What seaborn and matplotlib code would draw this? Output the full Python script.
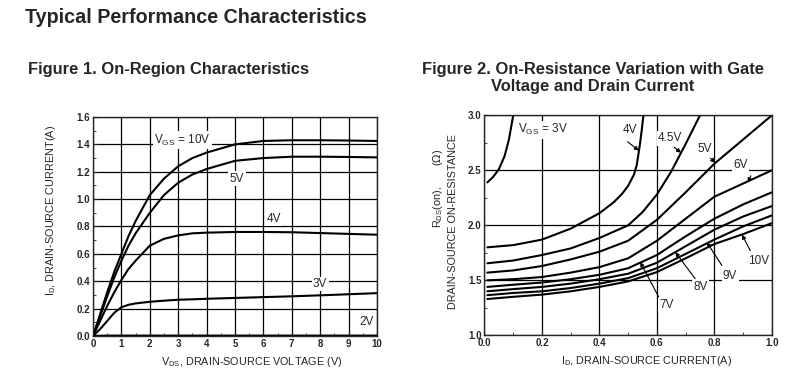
import numpy as np
import pandas as pd
import matplotlib
matplotlib.use("Agg")
import matplotlib.pyplot as plt
import seaborn as sns
from matplotlib.ticker import MultipleLocator

# Figure 1: On-region characteristics (I_D vs V_DS)
vds = [0, 0.25, 0.5, 0.75, 1, 1.25, 1.5, 2, 2.5, 3, 3.5, 4, 5, 6, 7, 8, 9, 10]
id_10v = [0, 0.16, 0.32, 0.47, 0.60, 0.73, 0.84, 1.03, 1.15, 1.24, 1.30, 1.34, 1.40, 1.425, 1.43, 1.43, 1.428, 1.425]
id_5v = [0, 0.145, 0.29, 0.43, 0.55, 0.66, 0.75, 0.90, 1.03, 1.12, 1.18, 1.22, 1.28, 1.30, 1.31, 1.31, 1.308, 1.305]
id_4v = [0, 0.11, 0.22, 0.32, 0.41, 0.49, 0.55, 0.66, 0.71, 0.735, 0.75, 0.755, 0.76, 0.76, 0.758, 0.752, 0.746, 0.74]
id_3v = [0, 0.05, 0.11, 0.17, 0.21, 0.228, 0.238, 0.25, 0.258, 0.265, 0.268, 0.272, 0.278, 0.284, 0.29, 0.297, 0.305, 0.313]
id_2v = [0, 0.002, 0.003, 0.003, 0.003, 0.003, 0.003, 0.003, 0.003, 0.003, 0.003, 0.003, 0.003, 0.003, 0.003, 0.003, 0.003, 0.003]

# Figure 2: on-resistance vs drain current
id_3v_r = [0.01, 0.03, 0.05, 0.07, 0.085, 0.1]
r_3v = [2.39, 2.44, 2.51, 2.63, 2.78, 3.0]
id_4v_r = [0.01, 0.1, 0.2, 0.3, 0.4, 0.45, 0.48, 0.5, 0.52, 0.53, 0.54, 0.547, 0.553]
r_4v = [1.80, 1.82, 1.87, 1.97, 2.11, 2.21, 2.29, 2.36, 2.46, 2.55, 2.72, 2.86, 3.0]
id_45v_r = [0.01, 0.1, 0.2, 0.3, 0.4, 0.5, 0.55, 0.6, 0.65, 0.7, 0.75]
r_45v = [1.655, 1.68, 1.73, 1.79, 1.885, 2.0, 2.12, 2.28, 2.49, 2.74, 3.0]
id_r = [0.01, 0.1, 0.2, 0.3, 0.4, 0.5, 0.6, 0.7, 0.8, 0.9, 1.0]
r_5v = [1.57, 1.59, 1.63, 1.69, 1.76, 1.86, 2.05, 2.30, 2.56, 2.78, 3.0]
r_6v = [1.50, 1.51, 1.53, 1.57, 1.62, 1.70, 1.86, 2.06, 2.26, 2.38, 2.50]
r_7v = [1.44, 1.46, 1.48, 1.51, 1.55, 1.61, 1.73, 1.90, 2.06, 2.19, 2.30]
r_8v = [1.40, 1.42, 1.44, 1.47, 1.51, 1.56, 1.66, 1.81, 1.96, 2.08, 2.175]
r_9v = [1.365, 1.385, 1.40, 1.43, 1.47, 1.52, 1.61, 1.74, 1.87, 1.99, 2.09]
r_10v = [1.33, 1.35, 1.37, 1.40, 1.44, 1.49, 1.575, 1.70, 1.83, 1.92, 2.02]

# build long tables for seaborn
fig1_df = pd.concat([
    pd.DataFrame({"vds": vds, "id": v, "vgs": name})
    for name, v in [("10V", id_10v), ("5V", id_5v), ("4V", id_4v), ("3V", id_3v), ("2V", id_2v)]
])
fig2_df = pd.concat([
    pd.DataFrame({"id": x, "r": y, "vgs": name})
    for name, x, y in [("3V", id_3v_r, r_3v), ("4V", id_4v_r, r_4v), ("4.5V", id_45v_r, r_45v),
                       ("5V", id_r, r_5v), ("6V", id_r, r_6v), ("7V", id_r, r_7v),
                       ("8V", id_r, r_8v), ("9V", id_r, r_9v), ("10V", id_r, r_10v)]
])

sns.set_style("ticks")
plt.rcParams["font.family"] = ["Liberation Sans", "DejaVu Sans"]
plt.rcParams["axes.linewidth"] = 1.0

fig = plt.figure(figsize=(8.04, 3.8), dpi=100)
ax1 = fig.add_axes([0.1157, 0.1158, 0.3532, 0.5763])
ax2 = fig.add_axes([0.6026, 0.1176, 0.3574, 0.5789])

box = dict(facecolor="white", edgecolor="none", pad=1.0)
lbl = dict(fontsize=8.5, ha="center", va="center", bbox=box, zorder=5)

# Figure 1
sns.lineplot(data=fig1_df, x="vds", y="id", hue="vgs", palette=["black"] * 5,
             estimator=None, legend=False, linewidth=1.5, ax=ax1)
ax1.set_xlim(0, 10)
ax1.set_ylim(0, 1.6)
ax1.xaxis.set_major_locator(MultipleLocator(1))
ax1.xaxis.set_minor_locator(MultipleLocator(0.5))
ax1.yaxis.set_major_locator(MultipleLocator(0.2))
ax1.yaxis.set_minor_locator(MultipleLocator(0.1))
ax1.yaxis.set_major_formatter(plt.FormatStrFormatter("%.1f"))
ax1.set_xlabel(r"$\mathregular{V_{DS}}$, DRAIN-SOURCE VOLTAGE (V)", fontsize=7.8)
ax1.set_ylabel(r"$\mathregular{I_D}$, DRAIN-SOURCE CURRENT(A)", fontsize=7.8)
ax1.xaxis.set_label_coords(0.558, -0.085)
ax1.yaxis.set_label_coords(-0.125, 0.573)
ax1.text(3.14, 1.43, r"$\mathregular{V_{GS}}$ = 10V", **lbl)
ax1.text(5.07, 1.15, "5V", **lbl)
ax1.text(6.36, 0.855, "4V", **lbl)
ax1.text(8.0, 0.38, "3V", **lbl)
ax1.text(9.63, 0.10, "2V", **lbl)

# Figure 2
sns.lineplot(data=fig2_df, x="id", y="r", hue="vgs", palette=["black"] * 9,
             estimator=None, legend=False, linewidth=1.5, ax=ax2)
ax2.set_xlim(0, 1.0)
ax2.set_ylim(1.0, 3.0)
ax2.xaxis.set_major_locator(MultipleLocator(0.2))
ax2.xaxis.set_minor_locator(MultipleLocator(0.1))
ax2.yaxis.set_major_locator(MultipleLocator(0.5))
ax2.yaxis.set_minor_locator(MultipleLocator(0.25))
ax2.xaxis.set_major_formatter(plt.FormatStrFormatter("%.1f"))
ax2.yaxis.set_major_formatter(plt.FormatStrFormatter("%.1f"))
ax2.set_xlabel(r"$\mathregular{I_D}$, DRAIN-SOURCE CURRENT(A)", fontsize=7.8)
ax2.xaxis.set_label_coords(0.563, -0.085)
ax2.set_ylabel("")

ax2.text(0.205, 2.87, r"$\mathregular{V_{GS}}$ = 3V", **lbl)
labels2 = [("4V", (0.505, 2.87), (0.498, 2.76), (0.537, 2.68)),
           ("4.5V", (0.646, 2.79), (0.660, 2.71), (0.684, 2.66)),
           ("5V", (0.768, 2.69), (0.786, 2.61), (0.803, 2.57)),
           ("6V", (0.89, 2.545), (0.927, 2.45), (0.916, 2.39)),
           ("7V", (0.635, 1.275), (0.606, 1.35), (0.542, 1.666)),
           ("8V", (0.751, 1.44), (0.733, 1.515), (0.664, 1.757)),
           ("9V", (0.855, 1.54), (0.826, 1.636), (0.774, 1.845)),
           ("10V", (0.954, 1.68), (0.925, 1.77), (0.896, 1.915))]
for text, pos, tail, head in labels2:
    ax2.text(pos[0], pos[1], text, **lbl)
    ax2.annotate("", xy=head, xytext=tail,
                 arrowprops=dict(arrowstyle="-|>", color="black", lw=0.8, mutation_scale=6,
                                 shrinkA=0, shrinkB=0), zorder=6)

for ax in (ax1, ax2):
    ax.grid(True, which="major", color="black", linewidth=0.9)
    ax.set_axisbelow(True)
    ax.tick_params(which="both", direction="in", labelsize=7, pad=2)
    ax.tick_params(which="major", length=3.5)
    ax.tick_params(which="minor", length=2)
    for t in ax.get_xticklabels() + ax.get_yticklabels():
        t.set_fontweight("bold")
    for s in ax.spines.values():
        s.set_visible(True)

# rotated y label of figure 2, two lines offset like the original
fig.text(0.545, 0.505, r"$\mathregular{R_{DS}}$(on),       ($\Omega$)", rotation=90,
         ha="center", va="center", fontsize=7.8)
fig.text(0.563, 0.418, "DRAIN-SOURCE ON-RESISTANCE", rotation=90,
         ha="center", va="center", fontsize=7.8)

fig.text(0.031, 0.953, "Typical Performance Characteristics", fontsize=14.2,
         fontweight="bold", ha="left", va="center")
fig.text(0.035, 0.816, "Figure 1. On-Region Characteristics", fontsize=11.9,
         fontweight="bold", ha="left", va="center")
fig.text(0.737, 0.816, "Figure 2. On-Resistance Variation with Gate", fontsize=11.9,
         fontweight="bold", ha="center", va="center")
fig.text(0.737, 0.772, "Voltage and Drain Current", fontsize=11.9,
         fontweight="bold", ha="center", va="center")

fig.savefig("out.png", dpi=100, facecolor="white")
